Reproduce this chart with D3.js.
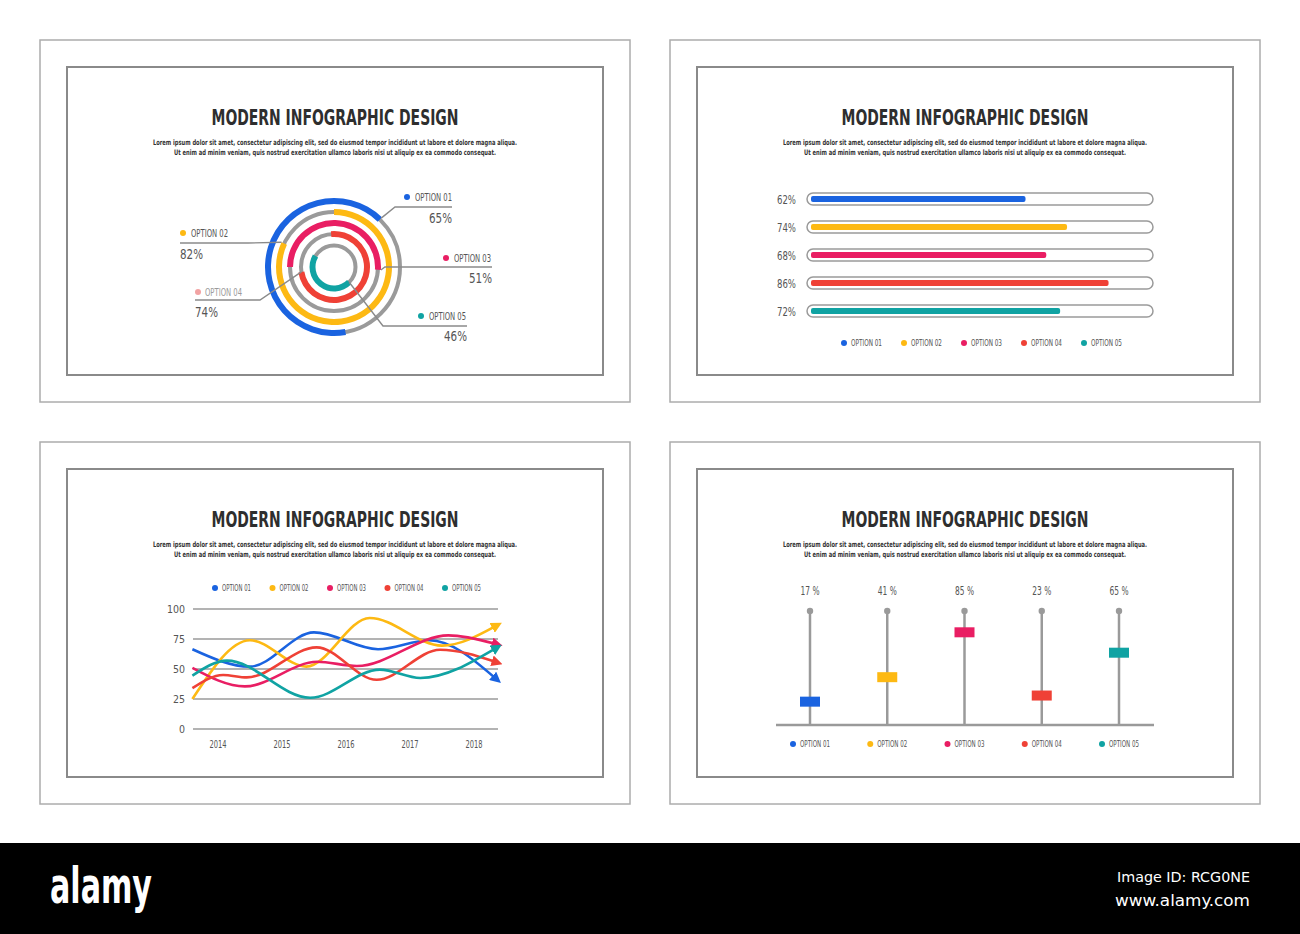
<!DOCTYPE html>
<html><head><meta charset="utf-8">
<script src="https://cdn.jsdelivr.net/npm/d3@7"></script>
<style>
body{margin:0;background:#fff;}
svg{display:block;}
text{font-family:"DejaVu Sans Condensed","Liberation Sans Narrow","Roboto",sans-serif;font-stretch:condensed;}
</style>
</head><body><svg id="c" width="1300" height="934"></svg>
<script>
// ---------- DATA ----------
const options = ["OPTION 01","OPTION 02","OPTION 03","OPTION 04","OPTION 05"];
const colors = ["#1a63e0","#fdb913","#e91e63","#ef4136","#10a3a3"];
const titleText = "MODERN INFOGRAPHIC DESIGN";
const subtitleLines = [
  "Lorem ipsum dolor sit amet, consectetur adipiscing elit, sed do eiusmod tempor incididunt ut labore et dolore magna aliqua.",
  "Ut enim ad minim veniam, quis nostrud exercitation ullamco laboris nisi ut aliquip ex ea commodo consequat."
];
// radial chart
const radialValues = [65,82,51,74,46];
const ringStartDeg = [170,0,-90,-5,135];
// progress bars
const barValues = [62,74,68,86,72];
// line chart
const years = [2014,2015,2016,2017,2018];
const yTicks = [0,25,50,75,100];
const line01 = [[2013.6,66.5],[2014.5,52],[2015.5,80.5],[2016.5,66.5],[2017.3,74],[2018.33,42.5]];
const line02 = [[2013.6,25],[2014.5,74],[2015.38,52],[2016.37,92.5],[2017.5,69.5],[2018.33,85.5]];
const line03 = [[2013.6,51],[2014.42,35.5],[2015.55,56],[2016.17,52.5],[2017.6,78],[2018.33,71]];
const line04 = [[2013.6,34],[2014.08,45],[2014.45,43],[2015.54,68],[2016.48,41],[2017.47,66],[2018.33,56]];
const line05 = [[2013.6,44.5],[2014.14,57],[2015.44,26],[2016.53,49.5],[2017.16,42.5],[2018.33,67]];
const lineSeries = [line01,line02,line03,line04,line05];
// lollipop
const lollipopValues = [17,41,85,23,65];

// ---------- DRAW ----------
const svg = d3.select("#c");
svg.append("rect").attr("width",1300).attr("height",934).attr("fill","#fff");

const panels = [[0,0],[630,0],[0,402],[630,402]];
const G = panels.map(([dx,dy]) => {
  const g = svg.append("g").attr("transform",`translate(${dx},${dy})`);
  g.append("rect").attr("x",40).attr("y",40).attr("width",590).attr("height",362)
    .attr("fill","none").attr("stroke","#acacac").attr("stroke-width",1.5);
  g.append("rect").attr("x",67).attr("y",67).attr("width",536).attr("height",308)
    .attr("fill","none").attr("stroke","#8a8a8a").attr("stroke-width",2);
  g.append("text").attr("x",335).attr("y",125).attr("text-anchor","middle")
    .attr("font-size",21).attr("font-weight","bold").attr("fill","#2e2e2e")
    .attr("textLength",247).attr("lengthAdjust","spacingAndGlyphs").text(titleText);
  const sw=[364,322], sy=[145,155];
  subtitleLines.forEach((t,i)=>{
    g.append("text").attr("x",335).attr("y",sy[i]).attr("text-anchor","middle")
      .attr("font-size",7.5).attr("font-weight","bold").attr("fill","#333")
      .attr("textLength",sw[i]).attr("lengthAdjust","spacingAndGlyphs").text(t);
  });
  return g;
});

function label(g,x,y,txt,size,w,anchor,fill){
  const t = g.append("text").attr("x",x).attr("y",y).attr("font-size",size)
    .attr("fill",fill||"#555").attr("text-anchor",anchor||"start").text(txt);
  if(w) t.attr("textLength",w).attr("lengthAdjust","spacingAndGlyphs");
  return t;
}

// ---- Panel 1: radial ----
(function(){
  const g = G[0];
  const cx=334, cy=267;
  const radii=[66,55,44,33,21.5];
  const rg = g.append("g").attr("transform",`translate(${cx},${cy})`);
  const rad = d=>d*Math.PI/180;
  radii.forEach((r,i)=>{
    rg.append("circle").attr("r",r).attr("fill","none").attr("stroke","#9a9a9a").attr("stroke-width",4);
    const s = ringStartDeg[i], e = s + radialValues[i]*3.6;
    const arc = d3.arc().innerRadius(r-3).outerRadius(r+3).startAngle(rad(s)).endAngle(rad(e));
    rg.append("path").attr("d",arc()).attr("fill",colors[i]);
  });
  // anchors
  const pt=(i,deg,dr)=>{const r=radii[i]+(dr||0);return [cx+r*Math.sin(rad(deg)), cy-r*Math.cos(rad(deg))];};
  const a1 = pt(0, ringStartDeg[0]+radialValues[0]*3.6, 2);
  const a2 = pt(1, ringStartDeg[1]+radialValues[1]*3.6, 3);
  const a3 = pt(2, ringStartDeg[2]+radialValues[2]*3.6, 3);
  const a4 = pt(3, ringStartDeg[3]+radialValues[3]*3.6, 0);
  const a5 = pt(4, ringStartDeg[4], 0);
  const L = d3.line();
  const leaders = [
    [a1,[395,207],[452,207]],
    [[180,243],[248,243],a2],
    [a3,[a3[0]+4,267],[492,267]],
    [[195,300],[260,300],a4],
    [a5,[383,326],[467,326]]
  ];
  leaders.forEach(p=>g.append("path").attr("d",L(p)).attr("fill","none").attr("stroke","#8a8a8a").attr("stroke-width",1.4));
  const lab = [
    {dot:[407,197], tx:415, ty:201, px:452, py:223, pa:"end"},
    {dot:[183,233], tx:191, ty:237, px:180, py:259, pa:"start"},
    {dot:[446,258], tx:454, ty:262, px:492, py:283, pa:"end"},
    {dot:[198,292], tx:205, ty:296, px:195, py:317, pa:"start"},
    {dot:[421,316], tx:429, ty:320, px:467, py:341, pa:"end"}
  ];
  lab.forEach((d,i)=>{
    g.append("circle").attr("cx",d.dot[0]).attr("cy",d.dot[1]).attr("r",3)
      .attr("fill", i===3 ? "#f2a3a3" : colors[i]);
    label(g,d.tx,d.ty,options[i],10,37,"start", i===3?"#9a9a9a":"#555");
    label(g,d.px,d.py,radialValues[i]+"%",14,23,d.pa,"#555");
  });
})();

// ---- Panel 2: progress bars ----
(function(){
  const g = svg.append("g");
  const x = d3.scaleLinear().domain([0,100]).range([811,1157]);
  const y = d3.scalePoint().domain(options).range([199,311]);
  options.forEach((o,i)=>{
    const yy=y(o);
    g.append("rect").attr("x",807).attr("y",yy-6).attr("width",346).attr("height",12).attr("rx",6)
      .attr("fill","#fff").attr("stroke","#9a9a9a").attr("stroke-width",1.5);
    g.append("rect").attr("x",x(0)).attr("y",yy-3).attr("width",x(barValues[i])-x(0)).attr("height",6).attr("rx",2)
      .attr("fill",colors[i]);
    label(g,796,yy+4.5,barValues[i]+"%",12,19,"end","#555");
  });
  const lx = d3.scalePoint().domain(options).range([844,1084]);
  options.forEach((o,i)=>{
    g.append("circle").attr("cx",lx(o)).attr("cy",343).attr("r",3).attr("fill",colors[i]);
    label(g,lx(o)+7,346,o,8,31,"start","#555");
  });
})();

// ---- Panel 3: line chart ----
(function(){
  const g = svg.append("g");
  const x = d3.scaleLinear().domain([2014,2018]).range([218,474]);
  const y = d3.scaleLinear().domain([0,100]).range([729,609]);
  yTicks.forEach(t=>{
    g.append("line").attr("x1",193).attr("x2",498).attr("y1",y(t)).attr("y2",y(t))
      .attr("stroke","#9a9a9a").attr("stroke-width",1.5);
    label(g,185,y(t)+4,String(t),10.5,null,"end","#555");
  });
  years.forEach(yr=>label(g,x(yr),748,String(yr),10.5,17,"middle","#555"));
  const defs = svg.append("defs");
  colors.forEach((c,i)=>{
    defs.append("marker").attr("id","arr"+i).attr("viewBox","0 -5 10 10").attr("refX",3).attr("refY",0)
      .attr("markerUnits","userSpaceOnUse").attr("markerWidth",11).attr("markerHeight",11).attr("orient","auto")
      .append("path").attr("d","M0,-5L10,0L0,5Z").attr("fill",c);
  });
  const line = d3.line().x(d=>x(d[0])).y(d=>y(d[1])).curve(d3.curveMonotoneX);
  lineSeries.forEach((s,i)=>{
    g.append("path").attr("d",line(s)).attr("fill","none").attr("stroke",colors[i])
      .attr("stroke-width",2.6).attr("marker-end",`url(#arr${i})`);
  });
  const lx = d3.scalePoint().domain(options).range([215,445]);
  options.forEach((o,i)=>{
    g.append("circle").attr("cx",lx(o)).attr("cy",588).attr("r",3).attr("fill",colors[i]);
    label(g,lx(o)+7,591,o,8,29,"start","#555");
  });
})();

// ---- Panel 4: lollipop ----
(function(){
  const g = svg.append("g");
  const x = d3.scalePoint().domain(options).range([810,1119]);
  const y = d3.scaleLinear().domain([0,100]).range([719,617]);
  options.forEach((o,i)=>{
    const xx=x(o);
    g.append("line").attr("x1",xx).attr("x2",xx).attr("y1",611).attr("y2",725)
      .attr("stroke","#9a9a9a").attr("stroke-width",2.5);
    g.append("circle").attr("cx",xx).attr("cy",611).attr("r",3.2).attr("fill","#9a9a9a");
    g.append("rect").attr("x",xx-10).attr("y",y(lollipopValues[i])-5).attr("width",20).attr("height",10)
      .attr("fill",colors[i]);
    label(g,xx,595,lollipopValues[i]+" %",11.5,19,"middle","#555");
  });
  g.append("line").attr("x1",776).attr("x2",1154).attr("y1",725).attr("y2",725)
    .attr("stroke","#9a9a9a").attr("stroke-width",2.5);
  const lx = d3.scalePoint().domain(options).range([793,1102]);
  options.forEach((o,i)=>{
    g.append("circle").attr("cx",lx(o)).attr("cy",744).attr("r",3).attr("fill",colors[i]);
    label(g,lx(o)+7,747,o,8,30,"start","#555");
  });
})();

// ---- alamy footer ----
svg.append("rect").attr("x",0).attr("y",843).attr("width",1300).attr("height",91).attr("fill","#000");
svg.append("text").attr("x",50).attr("y",903).attr("font-size",50).attr("font-weight","bold").attr("fill","#fff")
  .attr("textLength",102).attr("lengthAdjust","spacingAndGlyphs").text("alamy");
svg.append("text").attr("x",1250).attr("y",882).attr("text-anchor","end").attr("font-size",14).attr("fill","#fff")
  .attr("textLength",133).attr("lengthAdjust","spacingAndGlyphs").text("Image ID: RCG0NE");
svg.append("text").attr("x",1250).attr("y",906).attr("text-anchor","end").attr("font-size",16).attr("fill","#fff")
  .attr("textLength",135).attr("lengthAdjust","spacingAndGlyphs").text("www.alamy.com");
</script>
</body></html>
